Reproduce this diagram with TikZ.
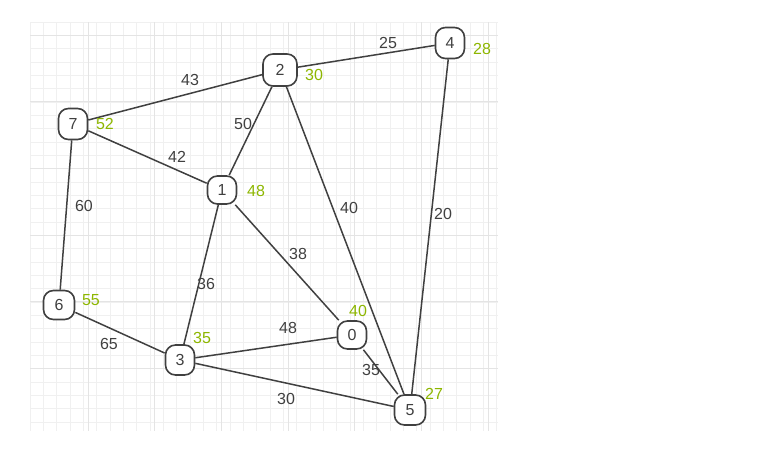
\documentclass[tikz,border=0pt]{standalone}
\usepackage{fontspec}
\setmainfont{Liberation Sans}
\definecolor{ink}{HTML}{404040}
\definecolor{wgreen}{HTML}{8DB600}
\definecolor{gridc}{HTML}{F0F0F0}
\definecolor{gridm}{HTML}{E4E4E4}
\begin{document}
\begin{tikzpicture}[x=1pt,y=-1pt,
  vert/.style={draw=ink,fill=white,line width=1.6pt,rounded corners=10pt,minimum width=29pt,minimum height=28pt,inner sep=0pt,text=ink,font=\fontsize{16}{19}\selectfont},
  edge/.style={draw=ink,line width=1.5pt},
  wlab/.style={text=ink,font=\fontsize{16}{19}\selectfont},
  glab/.style={text=wgreen,font=\fontsize{16}{19}\selectfont}]
\useasboundingbox (0,0) rectangle (773,449);
\foreach \i in {0,...,35} {\draw[gridc,line width=0.6pt] ({30+13.33*\i},22) -- ({30+13.33*\i},431);}
\foreach \j in {0,...,30} {\draw[gridc,line width=0.6pt] (30,{22+13.33*\j}) -- (498,{22+13.33*\j});}
\foreach \i in {0,...,6} {\draw[gridm,line width=0.8pt] ({88+66.7*\i},22) -- ({88+66.7*\i},431);}
\foreach \j in {0,...,5} {\draw[gridm,line width=0.8pt] (30,{35+66.7*\j}) -- (498,{35+66.7*\j});}
\node[vert] (n0) at (352,335) {0};
\node[vert] (n1) at (222,190) {1};
\node[vert,minimum width=34pt,minimum height=32pt] (n2) at (280,70) {2};
\node[vert,minimum height=30pt] (n3) at (180,360) {3};
\node[vert,minimum height=31pt] (n4) at (450,43) {4};
\node[vert,minimum width=31pt,minimum height=30pt] (n5) at (410,410) {5};
\node[vert,minimum width=31pt,minimum height=29pt] (n6) at (59,305) {6};
\node[vert,minimum height=31pt] (n7) at (73,124) {7};
\begin{scope}[on background layer/.style={}]
\end{scope}
\draw[edge] (n2) -- (n4);
\draw[edge] (n7) -- (n2);
\draw[edge] (n1) -- (n2);
\draw[edge] (n7) -- (n1);
\draw[edge] (n2) -- (n5);
\draw[edge] (n4) -- (n5);
\draw[edge] (n7) -- (n6);
\draw[edge] (n1) -- (n0);
\draw[edge] (n1) -- (n3);
\draw[edge] (n3) -- (n0);
\draw[edge] (n6) -- (n3);
\draw[edge] (n0) -- (n5);
\draw[edge] (n3) -- (n5);
\node[wlab] (l25) at (388,43) {25};
\node[wlab] (l43) at (190,80) {43};
\node[wlab] (l50) at (243,124) {50};
\node[wlab] (l42) at (177,157) {42};
\node[wlab] (l40) at (349,208) {40};
\node[wlab] (l20) at (443,214) {20};
\node[wlab] (l60) at (84,206) {60};
\node[wlab] (l38) at (298,254) {38};
\node[wlab] (l36) at (206,284) {36};
\node[wlab] (l48) at (288,328) {48};
\node[wlab] (l65) at (109,344) {65};
\node[wlab] (l35) at (371,370) {35};
\node[wlab] (l30) at (286,399) {30};
\node[glab] (g2) at (314,75) {30};
\node[glab] (g4) at (482,49) {28};
\node[glab] (g7) at (105,124) {52};
\node[glab] (g1) at (256,191) {48};
\node[glab] (g6) at (91,300) {55};
\node[glab] (g3) at (202,338) {35};
\node[glab] (g0) at (358,311) {40};
\node[glab] (g5) at (434,394) {27};
\end{tikzpicture}
\end{document}
